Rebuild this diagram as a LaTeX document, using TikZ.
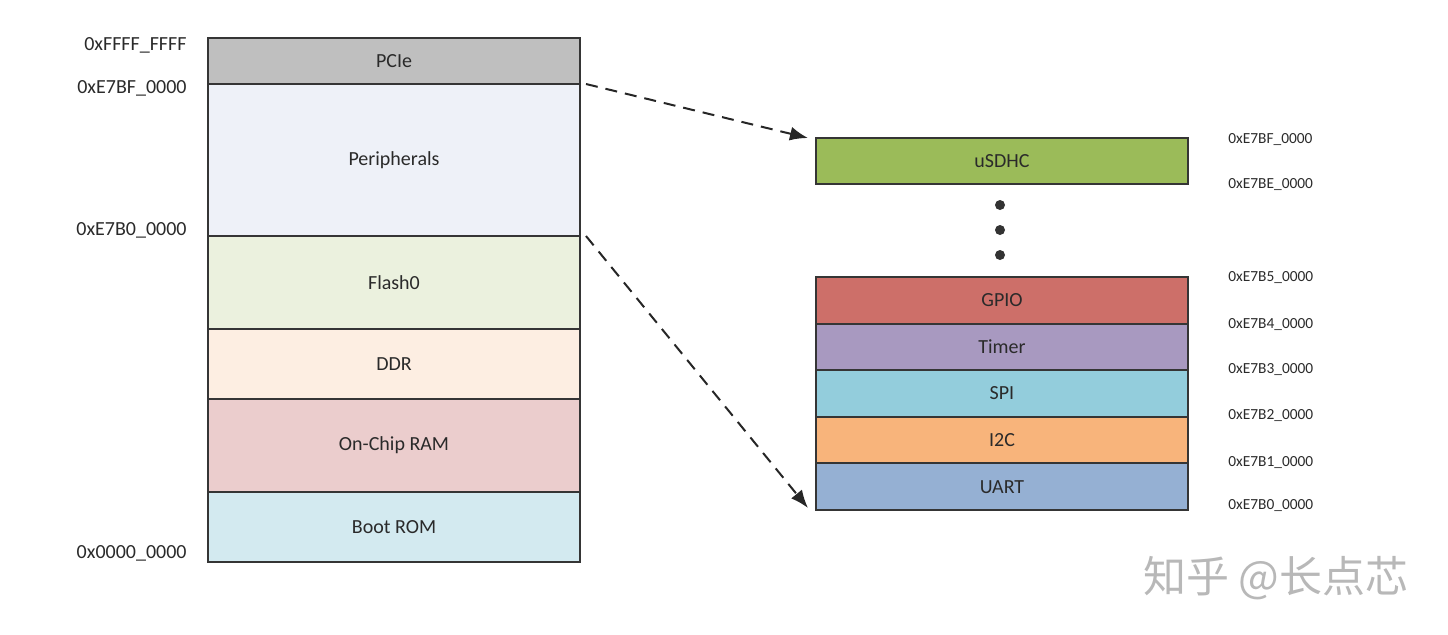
\documentclass[tikz,border=0pt]{standalone}
\usepackage{fontspec}
\setmainfont{Carlito}
\newfontfamily\cjkfont{Noto Sans CJK SC}
\usetikzlibrary{calc,arrows.meta}
\definecolor{cPCIe}{HTML}{BFBFBF}
\definecolor{cPeri}{HTML}{EEF1F8}
\definecolor{cFlash}{HTML}{EBF1DE}
\definecolor{cDDR}{HTML}{FDEEE2}
\definecolor{cRAM}{HTML}{EBCDCD}
\definecolor{cROM}{HTML}{D3EAF0}
\definecolor{cSD}{HTML}{9BBB59}
\definecolor{cGPIO}{HTML}{CD6F69}
\definecolor{cTimer}{HTML}{A899C0}
\definecolor{cSPI}{HTML}{93CDDC}
\definecolor{cI2C}{HTML}{F8B47B}
\definecolor{cUART}{HTML}{95B0D3}
\definecolor{cLine}{HTML}{353535}
\definecolor{cText}{HTML}{2A2A2A}
\begin{document}
\begin{tikzpicture}[x=0.5pt,y=-0.5pt,
  box/.style={draw=cLine,line width=1pt,minimum width=186pt,inner sep=0pt,outer sep=0pt,
    text=cText,font=\fontsize{10}{12}\selectfont},
  laddr/.style={anchor=east,text=cText,inner sep=0pt,font=\fontsize{10}{12}\selectfont},
  raddr/.style={anchor=west,text=cText,inner sep=0pt,font=\fontsize{7.7}{9}\selectfont},
  link/.style={draw=black!85,line width=1pt,dash pattern=on 6pt off 4pt,-{Latex[length=9pt,width=7pt]}},
  dot/.style={circle,fill=black!80,inner sep=0pt,minimum size=5pt}]
\useasboundingbox (0,0) rectangle (1448,634);
% left column
\node[box,fill=cPCIe,minimum height=23pt] (pcie) at (394,61) {PCIe};
\node[box,fill=cPeri,minimum height=76pt] (peri) at (394,160) {Peripherals};
\node[box,fill=cFlash,minimum height=46.5pt] (flash) at (394,282.5) {Flash0};
\node[box,fill=cDDR,minimum height=35pt] (ddr) at (394,364) {DDR};
\node[box,fill=cRAM,minimum height=46.5pt] (ram) at (394,445.5) {On-Chip RAM};
\node[box,fill=cROM,minimum height=35pt] (rom) at (394,527) {Boot ROM};
% left addresses
\node[laddr] (a1) at (187,45) {0xFFFF\_FFFF};
\node[laddr] (a2) at (187,88) {0xE7BF\_0000};
\node[laddr] (a3) at (187,230) {0xE7B0\_0000};
\node[laddr] (a4) at (187,553) {0x0000\_0000};
% right column
\node[box,fill=cSD,minimum height=23pt] (usdhc) at (1002,161) {uSDHC};
\node[dot] (d1) at (1000,205) {};
\node[dot] (d2) at (1000,230) {};
\node[dot] (d3) at (1000,255) {};
\node[box,fill=cGPIO,minimum height=23.3pt] (gpio) at (1002,300.3) {GPIO};
\node[box,fill=cTimer,minimum height=23.3pt] (timer) at (1002,346.9) {Timer};
\node[box,fill=cSPI,minimum height=23.3pt] (spi) at (1002,393.5) {SPI};
\node[box,fill=cI2C,minimum height=23.3pt] (i2c) at (1002,440.1) {I2C};
\node[box,fill=cUART,minimum height=23.3pt] (uart) at (1002,486.7) {UART};
% right addresses
\node[raddr] (r1) at (1228,140) {0xE7BF\_0000};
\node[raddr] (r2) at (1228,185) {0xE7BE\_0000};
\node[raddr] (r3) at (1228,278) {0xE7B5\_0000};
\node[raddr] (r4) at (1228,325) {0xE7B4\_0000};
\node[raddr] (r5) at (1228,370) {0xE7B3\_0000};
\node[raddr] (r6) at (1228,416) {0xE7B2\_0000};
\node[raddr] (r7) at (1228,463) {0xE7B1\_0000};
\node[raddr] (r8) at (1228,506) {0xE7B0\_0000};
% connectors
\draw[link] ($(peri.north east)+(6,0)$) -- ($(usdhc.north west)+(-8,0)$);
\draw[link] ($(peri.south east)+(6,0)$) -- ($(uart.south west)+(-8,-2)$);
% watermark
\node[text=black!28,font=\cjkfont\fontsize{21.5}{26}\selectfont,inner sep=0pt] (wm) at (1276,578) {知乎 @长点芯};
\end{tikzpicture}
\end{document}
